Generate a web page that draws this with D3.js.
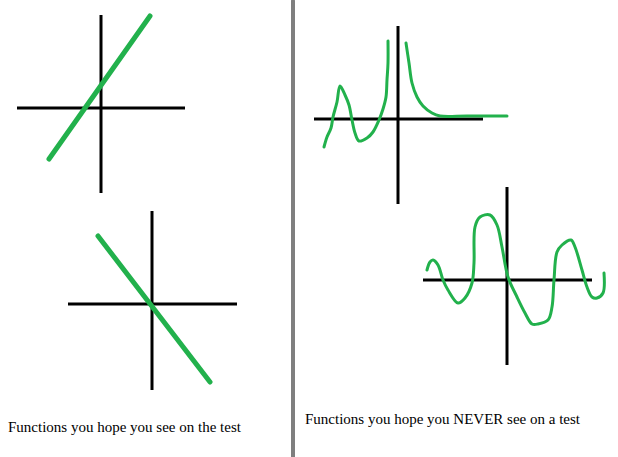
<!DOCTYPE html>
<html>
<head>
<meta charset="utf-8">
<script src="https://cdn.jsdelivr.net/npm/d3@7"></script>
<style>
  html, body { margin: 0; padding: 0; background: #fff; }
  svg { display: block; }
</style>
</head>
<body>
<div id="graph"></div>
<script>
var svgWidth = 618;		// width of the svg element
var svgHeight = 457;	// height of the svg element

// text
var leftCaption = "Functions you hope you see on the test";
var rightCaption = "Functions you hope you NEVER see on a test";

// panel 1 : rising straight line
var line1X = [-5.2, 4.9];
var line1Y = [-5.1, 9.2];

// panel 2 : falling straight line
var line2X = [-5.4, 5.8];
var line2Y = [6.8, -7.8];

// panel 3 : wiggle left of the axis, then an asymptote to the right
var wiggleX = [-7.4, -7.1, -6.7, -6.5, -6.1, -5.8, -5.3, -4.9, -4.6, -4.3, -3.9, -3.1, -2.5, -1.9, -1.5, -1.2, -1.1, -1.0, -1.0];
var wiggleY = [-2.8, -1.8, -0.9, 0.2, 1.7, 3.3, 2.4, 1.4, -0.1, -1.4, -2.2, -1.9, -1.3, -0.1, 1.0, 2.2, 3.9, 5.6, 7.8];
var decayX = [0.8, 1.1, 1.4, 1.9, 2.5, 3.4, 4.2, 6.9, 10.9];
var decayY = [7.6, 5.6, 3.6, 2.2, 1.3, 0.6, 0.3, 0.3, 0.3];

// panel 4 : wave
var waveX = [-8.0, -7.7, -7.4, -6.9, -6.4, -5.9, -4.9, -4.2, -3.5, -3.3, -3.2, -2.7, -1.7, -1.0, -0.5, 0.1, 1.0, 1.8, 2.5, 3.1, 4.1, 4.5, 4.7, 5.0, 5.5, 6.4, 6.8, 7.5, 8.0, 8.5, 9.0, 9.6, 9.7];
var waveY = [1.0, 1.8, 2.0, 1.5, 0, -1.0, -2.3, -1.8, -0.3, 1.7, 5.3, 6.3, 6.5, 5.5, 3.3, 0.3, -1.7, -3.3, -4.4, -4.4, -4.0, -2.7, 0, 2.8, 3.5, 4.0, 3.3, 1.0, -0.7, -1.7, -1.8, -1.3, 0.7];

// where each little pair of axes sits on the page
var panels = [
	{ x0: 17, x1: 185, y0: 193, y1: 15, xd: [-8.4, 8.4], yd: [-8.5, 9.3],
	  series: [{ x: line1X, y: line1Y, w: 5, curve: d3.curveLinear }] },
	{ x0: 68, x1: 237, y0: 390, y1: 211, xd: [-8.4, 8.5], yd: [-8.6, 9.3],
	  series: [{ x: line2X, y: line2Y, w: 5, curve: d3.curveLinear }] },
	{ x0: 314, x1: 483, y0: 204, y1: 26, xd: [-8.4, 8.5], yd: [-8.5, 9.3],
	  series: [{ x: wiggleX, y: wiggleY, w: 3, curve: d3.curveCatmullRom },
	           { x: decayX, y: decayY, w: 3, curve: d3.curveCatmullRom }] },
	{ x0: 423, x1: 592, y0: 365, y1: 187, xd: [-8.4, 8.5], yd: [-8.5, 9.3],
	  series: [{ x: waveX, y: waveY, w: 3, curve: d3.curveCatmullRom }] }
];

var svg = d3.select("#graph")
	.append("svg")
	.attr("width", svgWidth)
	.attr("height", svgHeight);

// grey divider down the middle
svg.append("line")
	.attr("x1", 293).attr("x2", 293)
	.attr("y1", 1).attr("y2", svgHeight)
	.attr("stroke", "#7f7f7f")
	.attr("stroke-width", 4)
	.attr("stroke-linecap", "round");

panels.forEach(function(p){

	var x = d3.scaleLinear().domain(p.xd).range([p.x0, p.x1]);
	var y = d3.scaleLinear().domain(p.yd).range([p.y0, p.y1]);

	var g = svg.append("g").attr("class", "panel");

	// axes, drawn as plain black strokes through zero
	g.append("line")
		.attr("x1", x(p.xd[0])).attr("x2", x(p.xd[1]))
		.attr("y1", y(0)).attr("y2", y(0))
		.attr("stroke", "#000")
		.attr("stroke-width", 3);
	g.append("line")
		.attr("x1", x(0)).attr("x2", x(0))
		.attr("y1", y(p.yd[0])).attr("y2", y(p.yd[1]))
		.attr("stroke", "#000")
		.attr("stroke-width", 3);

	p.series.forEach(function(s){
		var pts = s.x.map(function(d, i) { return [d, s.y[i]]; });
		var line = d3.line()
			.x(function(d) { return x(d[0]); })
			.y(function(d) { return y(d[1]); })
			.curve(s.curve);
		g.append("path")
			.attr("d", line(pts))
			.attr("fill", "none")
			.attr("stroke", "#22b14c")
			.attr("stroke-width", s.w)
			.attr("stroke-linecap", "round")
			.attr("stroke-linejoin", "round");
	});
});

// captions
svg.append("text")
	.attr("x", 8)
	.attr("y", 432)
	.attr("font-family", "'Liberation Serif', 'Times New Roman', serif")
	.attr("font-size", 15)
	.attr("fill", "#000")
	.text(leftCaption);

svg.append("text")
	.attr("x", 305)
	.attr("y", 424)
	.attr("font-family", "'Liberation Serif', 'Times New Roman', serif")
	.attr("font-size", 15)
	.attr("fill", "#000")
	.text(rightCaption);
</script>
</body>
</html>
